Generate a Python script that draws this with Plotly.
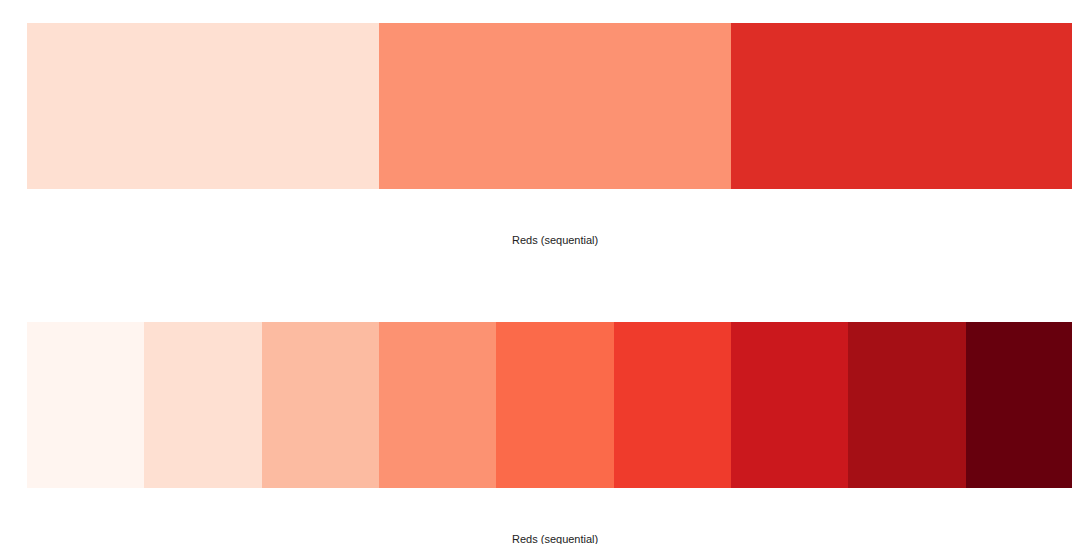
import plotly.graph_objects as go

reds3 = ["#fee0d2", "#fc9272", "#de2d26"]
reds9 = ["#fff5f0", "#fee0d2", "#fcbba1", "#fc9272", "#fb6a4a", "#ef3b2c", "#cb181d", "#a50f15", "#67000d"]
label = "Reds (sequential)"

fig = go.Figure()
fig.add_trace(go.Bar(x=list(range(len(reds3))), y=[1]*len(reds3), marker=dict(color=reds3, line=dict(width=0)),
                     xaxis="x", yaxis="y", showlegend=False, hoverinfo="skip"))
fig.add_trace(go.Bar(x=list(range(len(reds9))), y=[1]*len(reds9), marker=dict(color=reds9, line=dict(width=0)),
                     xaxis="x2", yaxis="y2", showlegend=False, hoverinfo="skip"))

H = 544
def py(p): return 1 - p / H
xd = [19/1080, 1075/1080]
ax = dict(showgrid=False, zeroline=False, showticklabels=False, showline=False, ticks="")
fig.update_layout(
    width=1080, height=544, margin=dict(l=0, r=0, t=0, b=0),
    paper_bgcolor="white", plot_bgcolor="white", bargap=0,
    xaxis=dict(domain=xd, range=[-0.5, 2.5], anchor="y", **ax),
    yaxis=dict(domain=[py(181), py(15)], range=[0, 1], anchor="x", **ax),
    xaxis2=dict(domain=xd, range=[-0.5, 8.5], anchor="y2", **ax),
    yaxis2=dict(domain=[py(480), py(314)], range=[0, 1], anchor="x2", **ax),
    font=dict(family="Liberation Sans, Arial", size=11, color="#222"),
    annotations=[
        dict(text=label, x=547/1080, y=py(232), xref="paper", yref="paper", showarrow=False, xanchor="center", yanchor="middle"),
        dict(text=label, x=547/1080, y=py(531), xref="paper", yref="paper", showarrow=False, xanchor="center", yanchor="middle"),
    ],
)
fig.write_html("out.html")
